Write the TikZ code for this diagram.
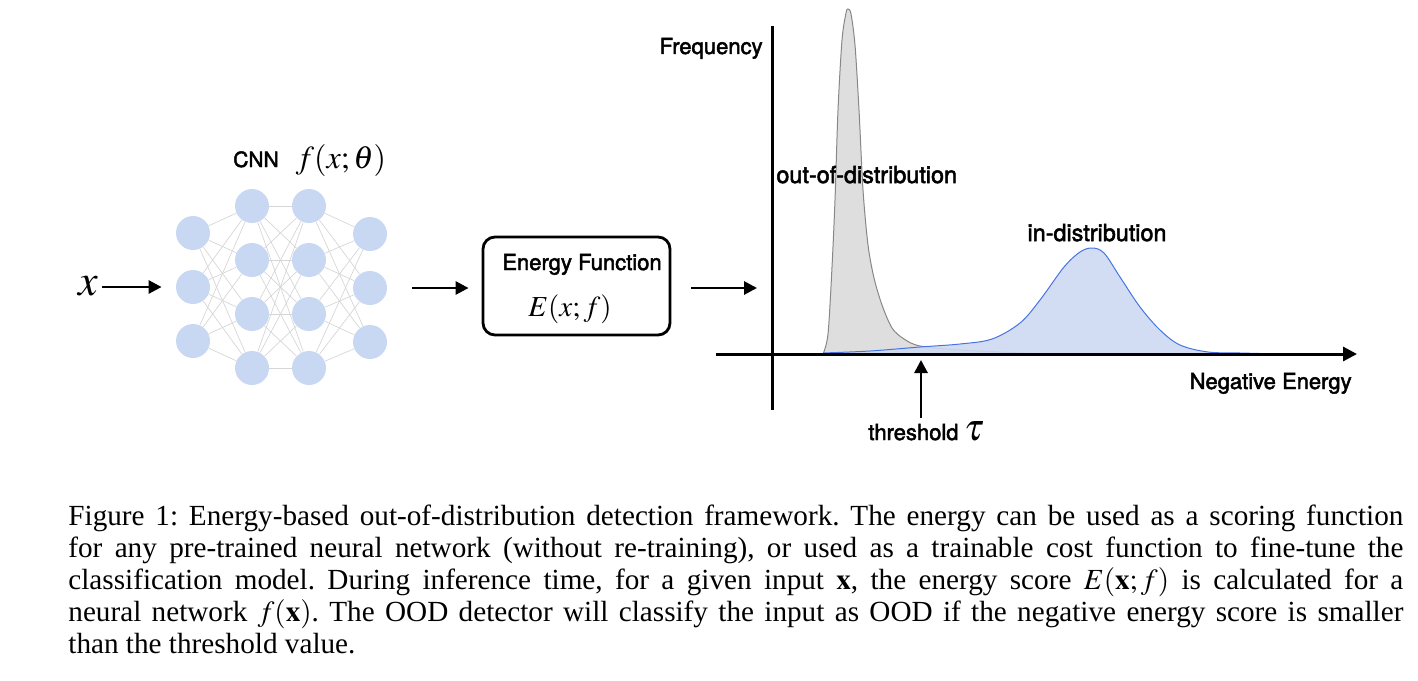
\documentclass[tikz,border=0pt]{standalone}
\usepackage{mathptmx}
\usepackage{fontspec}
\setmainfont{Liberation Serif}
\newfontfamily\helv[FakeBold=2.2]{TeX Gyre Heros}
\usetikzlibrary{arrows.meta,positioning}

\definecolor{cnnblue}{RGB}{201,216,242}
\definecolor{linkgray}{RGB}{214,214,214}
\definecolor{oodfill}{RGB}{222,222,222}
\definecolor{oodline}{RGB}{135,135,135}
\definecolor{idfill}{RGB}{205,217,243}
\definecolor{idline}{RGB}{72,116,226}

\tikzset{
	neuron/.style={circle, fill=cnnblue, minimum size=17pt, inner sep=0pt},
	link/.style={draw=linkgray, line width=0.35pt},
	flow/.style={line width=1.4pt, -{Triangle[length=6.5pt,width=6.5pt]}},
	axis/.style={line width=1.5pt},
	lbl/.style={font=\helv\fontsize{11}{13}\selectfont, inner sep=0pt},
}

\begin{document}
\begin{tikzpicture}[x=0.5pt, y=-0.5pt]
		\useasboundingbox (0,0) rectangle (1418,680);
		% Draw network.
		\foreach \i/\y in {1/233,2/287,3/341}
			\node[neuron] (a\i) at (193,\y) {};
		\foreach \i/\y in {1/206,2/260,3/314,4/368}{
			\node[neuron] (b\i) at (252,\y) {};
			\node[neuron] (c\i) at (309,\y) {};
		}
		\foreach \i/\y in {1/234,2/288,3/342}
			\node[neuron] (d\i) at (370,\y) {};
		\foreach \i in {1,2,3}
			\foreach \j in {1,...,4}{
				\draw[link] (a\i) -- (b\j);
				\draw[link] (c\j) -- (d\i);
			}
		\foreach \i in {1,...,4}
			\foreach \j in {1,...,4}
				\draw[link] (b\i) -- (c\j);
		\node[lbl, font=\helv\fontsize{10.5}{12}\selectfont, anchor=base] (cnn) at (256,167) {CNN};
		\node[inner sep=0pt, anchor=base, font=\fontsize{16}{18}\selectfont] (fx) at (341,168) {$f(x;\theta)$};
		
		% Draw input and energy box.
		\node[inner sep=2pt, font=\fontsize{22}{24}\selectfont] (xin) at (88,286) {$x$};
		\draw[flow, shorten >=7pt] (xin.east |- a2) -- (a2);
		\node[draw, line width=1.4pt, rounded corners=6pt, minimum width=93.5pt, minimum height=49pt] (efun) at (576.5,286) {};
		\node[lbl, anchor=base] (etxt) at (582,270) {Energy Function};
		\node[inner sep=0pt, anchor=base, font=\fontsize{14.5}{16}\selectfont] (eform) at (570,316) {$E(x;f)$};
		\draw[flow, shorten <=12.5pt, shorten >=6.5pt] (d2) -- (d2 -| efun.west);
		\coordinate (hist) at (757,288);
		\draw[flow, shorten <=10pt] (efun.east |- hist) -- (hist);
		
		% Draw histogram.
		\coordinate (ytop) at (772,26);
		\coordinate (ybot) at (772,410);
		\coordinate (xleft) at (716,354);
		\coordinate (xright) at (1357,354);
		\filldraw[fill=oodfill, draw=oodline, line width=0.5pt] plot[smooth, tension=0.5] coordinates {
			(823,354) (828,334) (832,267) (835,200) (838,110) (842,40) (846,13) (848,9) (851,14)
			(855,45) (859,110) (863,190) (868,245) (874,278) (882,305) (892,328) (904,339)
			(920,346) (960,350) (1000,352) (1040,354)};
		\filldraw[fill=idfill, fill opacity=0.9, draw=idline, line width=0.5pt] plot[smooth, tension=0.55] coordinates {
			(823,353) (870,351) (920,347) (960,344) (992,339) (1020,323) (1040,300) (1064,267)
			(1080,252) (1092,248) (1104,253) (1120,277) (1140,307) (1160,330) (1180,345)
			(1208,352) (1240,353) (1280,354)};
		\draw[axis] (ytop) -- (ybot);
		\draw[axis, -{Triangle[length=7pt,width=7pt]}] (xleft) -- (xright);
		\node[lbl, anchor=base east] (freq) at (763,54) {Frequency};
		\node[lbl, anchor=base east] (negen) at (1352,389) {Negative Energy};
		\node[lbl, font=\helv\fontsize{11.7}{13}\selectfont, anchor=base west] (ood) at (776,183) {out-of-distribution};
		\node[lbl, font=\helv\fontsize{11.7}{13}\selectfont, anchor=base] (ind) at (1097,241) {in-distribution};
		\node[lbl, anchor=base west] (thr) at (868,440) {threshold {\fontsize{19}{20}\selectfont$\tau$}};
		\coordinate (tau) at (921,360);
		\draw[flow] (tau |- 0,418) -- (tau);
		
		% Caption.
		\node[anchor=base west, inner sep=0pt] (cap) at (68,525) {\parbox[t]{667.5pt}{\fontsize{14.6}{16}\selectfont
			\frenchspacing \hyphenpenalty=10000 \exhyphenpenalty=10000 \emergencystretch=2em
			Figure 1: Energy-based out-of-distribution detection framework. The energy can be used as a scoring function\linebreak
			for any pre-trained neural network (without re-training), or used as a trainable cost function to fine-tune the\linebreak
			classification model. During inference time, for a given input $\mathbf{x}$, the energy score $E(\mathbf{x};f)$ is calculated for a\linebreak
			neural network $f(\mathbf{x})$. The OOD detector will classify the input as OOD if the negative energy score is smaller\linebreak
			than the threshold value.}};
	\end{tikzpicture}
\end{document}
